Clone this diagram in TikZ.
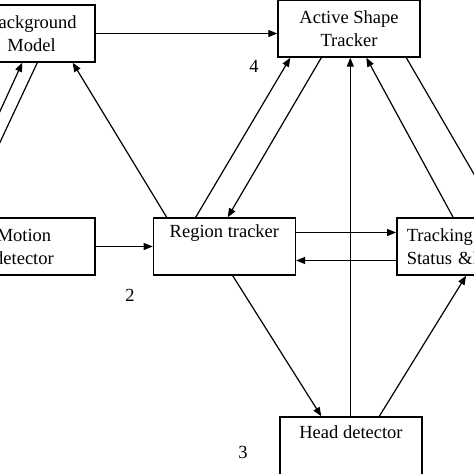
\documentclass[tikz,border=0pt]{standalone}
\usepackage{fontspec}
\setmainfont{Liberation Serif}
\usepackage{tikz}
\usetikzlibrary{positioning}
\usetikzlibrary{arrows.meta}

\begin{document}
\begin{tikzpicture}[x=1pt,y=-1pt,
  box/.style={draw, line width=1.4pt, align=center, minimum width=142pt, minimum height=57pt, inner sep=2pt},
  link/.style={line width=1.2pt, -{Triangle[length=9pt,width=7pt]}},
  every node/.style={font=\fontsize{18.5pt}{23pt}\selectfont}]
\useasboundingbox (0,0) rectangle (474,474);

% Row 1
\node [box, minimum width=127pt] (bg) at (31.5,33.5) {Background\\Model};
\node [box] (active) at (349,28.5) {Active Shape\\Tracker};

% Row 2
\node [box] (motion) at (24,246.5) {Motion\\detector};
\node [box, right=57pt of motion] (region) {Region tracker\\\strut};
\node [box, right=100pt of region, align=left, text width=122pt, inner xsep=10pt] (track) {Tracking\\Status \&I};

% Row 3
\node [box, minimum height=60pt] (head) at (351,447) {Head detector\\\strut};

% numbers
\node (n4) at (254,66) {4};
\node (n2) at (130,295) {2};
\node (n3) at (243,452) {3};

% ends out of the frame
\coordinate (offa) at (-27,170);
\coordinate (offb) at (-13,170);

\draw [link] (bg.east) -- (bg.east -| active.west);
\draw [link] (offa) -- ([xshift=55pt]bg.south west);
\draw [link] ([xshift=70pt]bg.south west) -- (offb);
\draw [link] (motion) -- (region);
\draw [link] ([xshift=14pt]region.north west) -- ([xshift=-23pt]bg.south east);
\draw [link] ([xshift=43pt]region.north west) -- ([xshift=13pt]active.south west);
\draw [link] ([xshift=44pt]active.south west) -- ([xshift=75pt]region.north west);
\draw [link] ([xshift=57pt]track.north west) -- ([xshift=89pt]active.south west);
\draw [link] ([xshift=129pt]active.south west) -- ([xshift=103pt]track.north west);
\draw [link] ([yshift=14pt]region.east) -- ([yshift=14pt]track.west);
\draw [link] ([yshift=-14pt]track.west) -- ([yshift=-14pt]region.east);
\draw [link] ([xshift=80pt]region.south west) -- ([xshift=42pt]head.north west);
\draw [link] ([xshift=71pt]head.north west) -- ([xshift=73pt]active.south west);
\draw [link] ([xshift=100pt]head.north west) -- ([xshift=70pt]track.south west);

\end{tikzpicture}
\end{document}
